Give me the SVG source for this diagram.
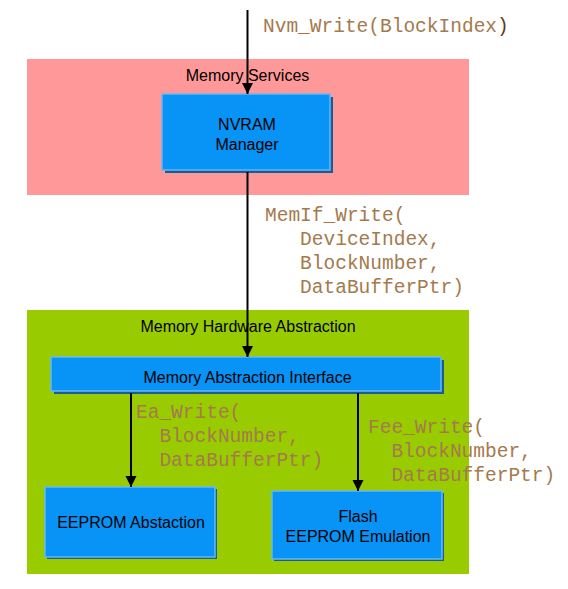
<svg xmlns="http://www.w3.org/2000/svg" width="568" height="589" viewBox="0 0 568 589">
<style>
.lbl{font-family:"Liberation Sans",Arial,sans-serif;font-size:16px;fill:#000;text-anchor:middle}
.code{font-family:"Liberation Mono","Courier New",monospace;font-size:19.5px;fill:#A47A4C}
.box{fill:#0893F6;stroke:#66B8F2;stroke-width:1.5}
.shadow{fill:#1B5C94}
.conn{stroke:#000;stroke-width:2;fill:none;marker-end:url(#arr)}
</style>
<defs>
<marker id="arr" viewBox="0 0 10 10" refX="10" refY="5" markerWidth="5.5" markerHeight="6" markerUnits="strokeWidth" orient="auto">
<path d="M0,0 L10,5 L0,10 z" fill="#000"/>
</marker>
</defs>
<rect width="568" height="589" fill="#fff"/>
<g id="memory-services">
<rect x="27" y="59" width="442" height="136" fill="#FF9999"/>
<text class="lbl" x="247.5" y="81">Memory Services</text>
</g>
<g id="memory-hardware-abstraction">
<rect x="27" y="310" width="442" height="264" fill="#99CC00"/>
<text class="lbl" x="248" y="331.5">Memory Hardware Abstraction</text>
</g>
<g id="nvram-manager">
<rect class="shadow" x="165" y="97" width="168" height="76"/>
<rect class="box" x="162" y="94" width="168" height="76"/>
<text class="lbl" x="247" y="130">NVRAM</text>
<text class="lbl" x="247" y="150">Manager</text>
</g>
<g id="memory-abstraction-interface">
<rect class="shadow" x="54" y="360" width="390" height="34"/>
<rect class="box" x="51" y="357" width="390" height="34"/>
<text class="lbl" x="247.5" y="382.5">Memory Abstraction Interface</text>
</g>
<g id="eeprom-abstraction">
<rect class="shadow" x="47" y="489" width="170" height="70"/>
<rect class="box" x="45" y="487" width="170" height="70"/>
<text class="lbl" x="131" y="528">EEPROM Abstaction</text>
</g>
<g id="flash-eeprom-emulation">
<rect class="shadow" x="274" y="493" width="170" height="68"/>
<rect class="box" x="272" y="491" width="170" height="68"/>
<text class="lbl" x="358" y="522">Flash</text>
<text class="lbl" x="358" y="541.5">EEPROM Emulation</text>
</g>
<g id="connectors">
<line class="conn" x1="247.5" y1="10" x2="247.5" y2="94"/>
<line class="conn" x1="247.5" y1="172" x2="247.5" y2="357"/>
<line class="conn" x1="131" y1="393" x2="131" y2="487"/>
<line class="conn" x1="358" y1="393" x2="358" y2="491"/>
</g>
<g id="labels">
<text class="code" x="263" y="32">Nvm_Write(BlockIndex<tspan fill="#663311">)</tspan></text>
<text class="code" x="265" y="221" xml:space="preserve">MemIf_Write(</text>
<text class="code" x="265" y="245" xml:space="preserve">   DeviceIndex,</text>
<text class="code" x="265" y="269" xml:space="preserve">   BlockNumber,</text>
<text class="code" x="265" y="293" xml:space="preserve">   DataBufferPtr)</text>
<text class="code" x="136" y="418" xml:space="preserve">Ea_Write(</text>
<text class="code" x="136" y="442" xml:space="preserve">  BlockNumber,</text>
<text class="code" x="136" y="466" xml:space="preserve">  DataBufferPtr)</text>
<text class="code" x="368" y="433" xml:space="preserve">Fee_Write(</text>
<text class="code" x="368" y="457" xml:space="preserve">  BlockNumber,</text>
<text class="code" x="368" y="481" xml:space="preserve">  DataBufferPtr)</text>
</g>
</svg>
